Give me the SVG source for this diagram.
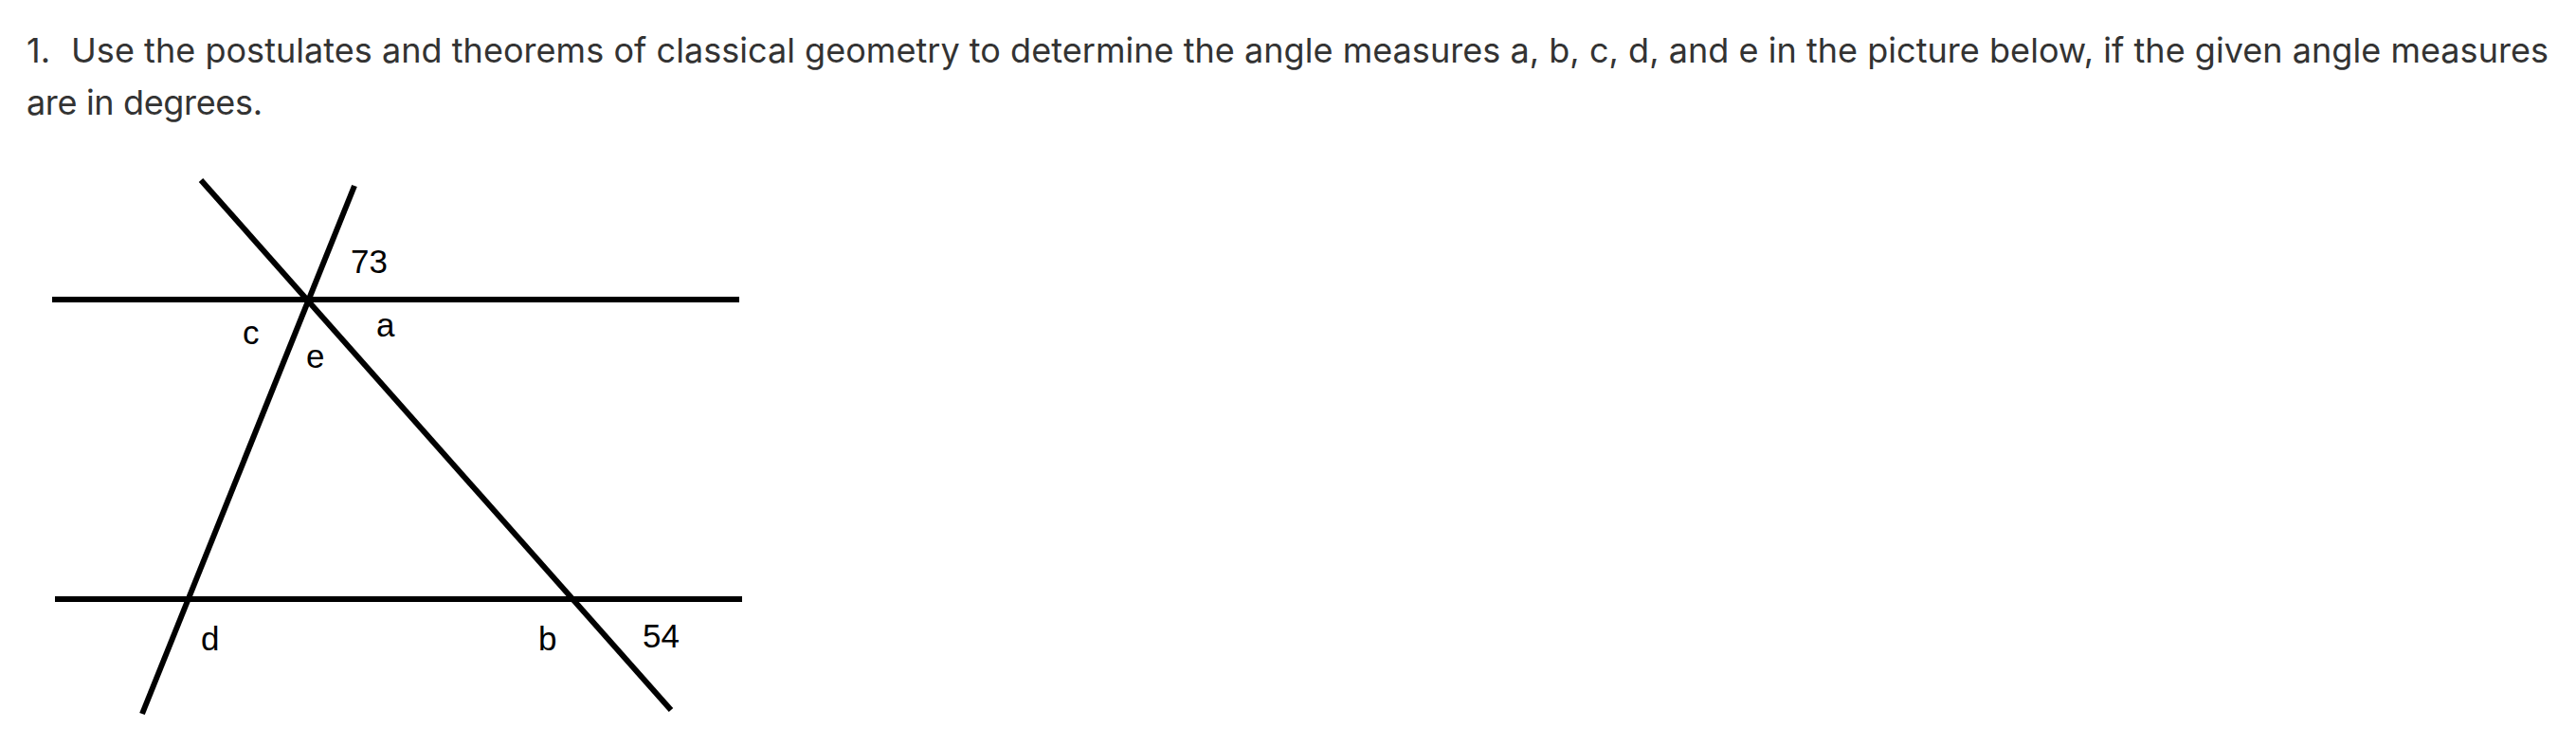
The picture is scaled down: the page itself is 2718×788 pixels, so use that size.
<svg xmlns="http://www.w3.org/2000/svg" width="2718" height="788" viewBox="0 0 2718 788">
  <style>
    .q { font-family: Inter, "Noto Sans", "Liberation Sans", sans-serif; font-size: 36px; fill: #333333; }
    .lbl { font-family: "Liberation Sans", Arial, sans-serif; font-size: 35px; fill: #000000; }
    .ln { stroke: #000000; stroke-width: 6; stroke-linecap: butt; fill: none; }
  </style>
  <rect x="0" y="0" width="2718" height="788" fill="#ffffff"/>
  <g id="question">
    <text class="q" x="28" y="66">1.</text>
    <text class="q" x="75" y="66" textLength="2614" lengthAdjust="spacing">Use the postulates and theorems of classical geometry to determine the angle measures a, b, c, d, and e in the picture below, if the given angle measures</text>
    <text class="q" x="28" y="121" textLength="249" lengthAdjust="spacing">are in degrees.</text>
  </g>
  <g id="figure-lines">
    <line id="parallel-top" class="ln" x1="55" y1="316" x2="780" y2="316"/>
    <line id="parallel-bottom" class="ln" x1="58" y1="632" x2="783" y2="632"/>
    <line id="transversal-steep" class="ln" x1="374" y1="196" x2="150" y2="753"/>
    <line id="transversal-diagonal" class="ln" x1="212" y1="190" x2="708" y2="749"/>
  </g>
  <g id="figure-labels">
    <text id="lbl-73" class="lbl" x="370" y="288">73</text>
    <text id="lbl-a" class="lbl" x="397" y="355">a</text>
    <text id="lbl-c" class="lbl" x="256" y="363">c</text>
    <text id="lbl-e" class="lbl" x="323" y="388">e</text>
    <text id="lbl-d" class="lbl" x="212" y="686">d</text>
    <text id="lbl-b" class="lbl" x="568" y="686">b</text>
    <text id="lbl-54" class="lbl" x="678" y="683">54</text>
  </g>
</svg>
